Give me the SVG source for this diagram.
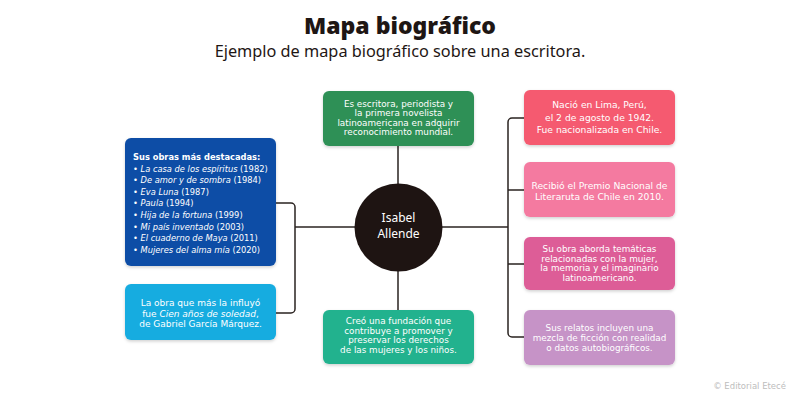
<svg xmlns="http://www.w3.org/2000/svg" width="800" height="400" viewBox="0 0 800 400">
<defs>
<filter id="sh" x="-10%" y="-10%" width="120%" height="130%">
<feDropShadow dx="0" dy="1.5" stdDeviation="1.5" flood-color="#000" flood-opacity="0.18"/>
</filter>
<style>
.t{font-family:"DejaVu Sans","Noto Sans",sans-serif;fill:#fff;font-size:8.8px;text-anchor:middle}
.l{text-anchor:start;font-size:8.3px}
.m{font-size:9.2px}
.big{font-size:12px;font-family:"Noto Sans","Liberation Sans",sans-serif}
.c{fill:none;stroke:#2a2320;stroke-width:1.5}
.box{filter:url(#sh)}
</style>
</defs>
<rect width="800" height="400" fill="#fff"/>
<text x="400" y="34" font-family="Noto Sans, Liberation Sans, sans-serif" font-weight="900" font-size="23" text-anchor="middle" fill="#1e1614">Mapa biográfico</text>
<text x="400" y="56.5" font-family="Noto Sans, Liberation Sans, sans-serif" font-size="16.3" text-anchor="middle" fill="#1e1614">Ejemplo de mapa biográfico sobre una escritora.</text>

<g id="connectors">
<path class="c" d="M276 203 H291 a4 4 0 0 1 4 4 V309 a4 4 0 0 1 -4 4 H276"/>
<path class="c" d="M295 227 H355"/>
<path class="c" d="M442 227 H508"/>
<path class="c" d="M524 118 H512 a4 4 0 0 0 -4 4 V333 a4 4 0 0 0 4 4 H524"/>
<path class="c" d="M508 190 H524 M508 264 H524"/>
<path class="c" d="M398 146 V184 M398 271 V310"/>
</g>

<g id="center">
<circle cx="398.5" cy="227.5" r="44" fill="#1e1412"/>
<text class="t big" x="398.5" y="222">Isabel</text>
<text class="t big" x="398.5" y="237.5">Allende</text>
</g>

<g id="obras">
<rect class="box" x="125" y="138" width="151" height="128" rx="6" fill="#0b4ea6"/>
<text class="t l" x="133" y="160" font-weight="bold">Sus obras más destacadas:</text>
<text class="t l" x="133" y="171.6">• <tspan font-style="italic">La casa de los espíritus</tspan> (1982)</text>
<text class="t l" x="133" y="183.2">• <tspan font-style="italic">De amor y de sombra</tspan> (1984)</text>
<text class="t l" x="133" y="194.8">• <tspan font-style="italic">Eva Luna</tspan> (1987)</text>
<text class="t l" x="133" y="206.4">• <tspan font-style="italic">Paula</tspan> (1994)</text>
<text class="t l" x="133" y="218">• <tspan font-style="italic">Hija de la fortuna</tspan> (1999)</text>
<text class="t l" x="133" y="229.6">• <tspan font-style="italic">Mi país inventado</tspan> (2003)</text>
<text class="t l" x="133" y="241.2">• <tspan font-style="italic">El cuaderno de Maya</tspan> (2011)</text>
<text class="t l" x="133" y="252.8">• <tspan font-style="italic">Mujeres del alma mía</tspan> (2020)</text>
</g>

<g id="influencia">
<rect class="box" x="125" y="284" width="151" height="56" rx="6" fill="#19ace0"/>
<text class="t" x="200.5" y="306" style="font-size:9px">La obra que más la influyó</text>
<text class="t" x="200.5" y="316.5" style="font-size:9px">fue <tspan font-style="italic">Cien años de soledad</tspan>,</text>
<text class="t" x="200.5" y="327" style="font-size:9px">de Gabriel García Márquez.</text>
</g>

<g id="escritora">
<rect class="box" x="323" y="91" width="151" height="55" rx="6" fill="#2d9056"/>
<text class="t" x="398.5" y="106.5">Es escritora, periodista y</text>
<text class="t" x="398.5" y="116">la primera novelista</text>
<text class="t" x="398.5" y="125.5">latinoamericana en adquirir</text>
<text class="t" x="398.5" y="135">reconocimiento mundial.</text>
</g>

<g id="fundacion">
<rect class="box" x="323" y="310" width="151" height="54" rx="6" fill="#22b28e"/>
<text class="t" x="398.5" y="324">Creó una fundación que</text>
<text class="t" x="398.5" y="333.5">contribuye a promover y</text>
<text class="t" x="398.5" y="343">preservar los derechos</text>
<text class="t" x="398.5" y="352.5">de las mujeres y los niños.</text>
</g>

<g id="nacimiento">
<rect class="box" x="524" y="90" width="151" height="55" rx="6" fill="#f55a6f"/>
<text class="t m" x="599.5" y="108">Nació en Lima, Perú,</text>
<text class="t m" x="599.5" y="120.5">el 2 de agosto de 1942.</text>
<text class="t m" x="599.5" y="133">Fue nacionalizada en Chile.</text>
</g>

<g id="premio">
<rect class="box" x="524" y="162" width="151" height="55" rx="6" fill="#f47aa0"/>
<text class="t m" x="599.5" y="189">Recibió el Premio Nacional de</text>
<text class="t m" x="599.5" y="200">Literaruta de Chile en 2010.</text>
</g>

<g id="tematicas">
<rect class="box" x="524" y="237" width="151" height="53" rx="6" fill="#dd5d97"/>
<text class="t" x="599.5" y="252">Su obra aborda temáticas</text>
<text class="t" x="599.5" y="261.7">relacionadas con la mujer,</text>
<text class="t" x="599.5" y="271.4">la memoria y el imaginario</text>
<text class="t" x="599.5" y="281.1">latinoamericano.</text>
</g>

<g id="relatos">
<rect class="box" x="524" y="310" width="151" height="55" rx="6" fill="#c693c7"/>
<text class="t" x="599.5" y="331">Sus relatos incluyen una</text>
<text class="t" x="599.5" y="341">mezcla de ficción con realidad</text>
<text class="t" x="599.5" y="351">o datos autobiográficos.</text>
</g>

<text x="786" y="389" font-family="DejaVu Sans, Noto Sans, sans-serif" font-size="8.5" text-anchor="end" fill="#bdbdbd">© Editorial Etecé</text>
</svg>
